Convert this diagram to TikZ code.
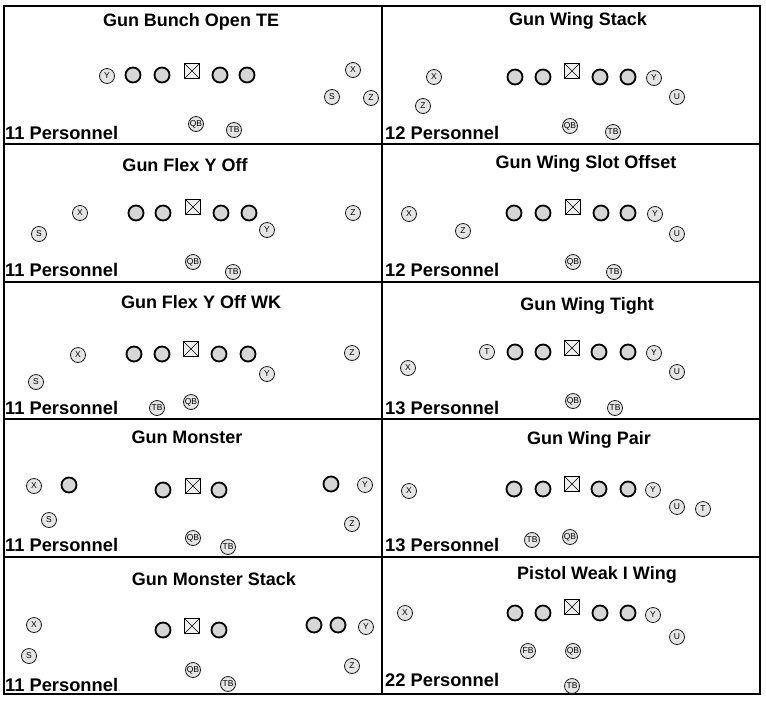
\documentclass[tikz,border=0pt]{standalone}
\usepackage{fontspec}
\setmainfont{Liberation Sans}
\begin{document}
\begin{tikzpicture}[x=1pt,y=-1pt,
  pl/.style={circle,draw=black!90,fill=black!10,line width=0.8pt,minimum size=15pt,inner sep=0pt,font=\fontsize{8.5}{9}\selectfont},
  ol/.style={circle,draw=black,fill=black!16,line width=1.8pt,minimum size=15pt,inner sep=0pt},
  ctr/.style={rectangle,draw=black,fill=black!6,line width=1.8pt,minimum size=15pt,inner sep=0pt,
    path picture={\draw[line width=0.6pt] (path picture bounding box.north west) -- (path picture bounding box.south east)
      (path picture bounding box.south west) -- (path picture bounding box.north east);}},
  ttl/.style={inner sep=0pt,font=\fontsize{18}{20}\selectfont\bfseries},
  pers/.style={anchor=west,inner sep=0pt,font=\fontsize{18.3}{20}\selectfont\bfseries},
  grid/.style={line width=1.2pt,draw=black}]
\useasboundingbox[fill=white] (0,0) rectangle (766,705);
% grid
\draw[grid] (4,6) rectangle (760,694);
\draw[grid] (382,6) -- (382,694);
\draw[grid] (4,144) -- (760,144);
\draw[grid] (4,282) -- (760,282);
\draw[grid] (4,419) -- (760,419);
\draw[grid] (4,557) -- (760,557);

% ---------- Panel 1 ----------
\node[ttl] (t1) at (191,22) {Gun Bunch Open TE};
\node[pers] (p1) at (5,133) {11 Personnel};
\node[pl] (a1y) at (107,76) {Y};
\node[ol] (a1l1) at (133,75) {};
\node[ol] (a1l2) at (162,75) {};
\node[ctr] (a1c) at (192,71) {};
\node[ol] (a1l4) at (220,75) {};
\node[ol] (a1l5) at (247,75) {};
\node[pl] (a1x) at (353,70) {X};
\node[pl] (a1s) at (332,97) {S};
\node[pl] (a1z) at (371,98) {Z};
\node[pl] (a1qb) at (196,124) {QB};
\node[pl] (a1tb) at (234,130) {TB};

% ---------- Panel 2 ----------
\node[ttl] (t2) at (578,21) {Gun Wing Stack};
\node[pers] (p2) at (385,133) {12 Personnel};
\node[pl] (a2x) at (434,77) {X};
\node[pl] (a2z) at (423,106) {Z};
\node[ol] (a2l1) at (515,77) {};
\node[ol] (a2l2) at (543,77) {};
\node[ctr] (a2c) at (572,71) {};
\node[ol] (a2l4) at (600,77) {};
\node[ol] (a2l5) at (628,77) {};
\node[pl] (a2y) at (654,78) {Y};
\node[pl] (a2u) at (677,97) {U};
\node[pl] (a2qb) at (570,126) {QB};
\node[pl] (a2tb) at (613,132) {TB};

% ---------- Panel 3 ----------
\node[ttl] (t3) at (185,165) {Gun Flex Y Off};
\node[pers] (p3) at (5,270) {11 Personnel};
\node[pl] (a3x) at (80,213) {X};
\node[pl] (a3s) at (39,234) {S};
\node[ol] (a3l1) at (136,213) {};
\node[ol] (a3l2) at (163,213) {};
\node[ctr] (a3c) at (193,207) {};
\node[ol] (a3l4) at (221,213) {};
\node[ol] (a3l5) at (249,213) {};
\node[pl] (a3y) at (267,230) {Y};
\node[pl] (a3z) at (353,213) {Z};
\node[pl] (a3qb) at (193,262) {QB};
\node[pl] (a3tb) at (233,272) {TB};

% ---------- Panel 4 ----------
\node[ttl] (t4) at (586,164) {Gun Wing Slot Offset};
\node[pers] (p4) at (385,270) {12 Personnel};
\node[pl] (a4x) at (409,214) {X};
\node[pl] (a4z) at (463,231) {Z};
\node[ol] (a4l1) at (514,213) {};
\node[ol] (a4l2) at (543,213) {};
\node[ctr] (a4c) at (573,207) {};
\node[ol] (a4l4) at (601,213) {};
\node[ol] (a4l5) at (628,213) {};
\node[pl] (a4y) at (655,214) {Y};
\node[pl] (a4u) at (677,234) {U};
\node[pl] (a4qb) at (573,262) {QB};
\node[pl] (a4tb) at (614,272) {TB};

% ---------- Panel 5 ----------
\node[ttl] (t5) at (201,302) {Gun Flex Y Off WK};
\node[pers] (p5) at (5,408) {11 Personnel};
\node[pl] (a5x) at (78,355) {X};
\node[pl] (a5s) at (36,382) {S};
\node[ol] (a5l1) at (134,354) {};
\node[ol] (a5l2) at (162,354) {};
\node[ctr] (a5c) at (191,349) {};
\node[ol] (a5l4) at (219,354) {};
\node[ol] (a5l5) at (248,354) {};
\node[pl] (a5y) at (267,374) {Y};
\node[pl] (a5z) at (352,353) {Z};
\node[pl] (a5tb) at (157,408) {TB};
\node[pl] (a5qb) at (191,402) {QB};

% ---------- Panel 6 ----------
\node[ttl] (t6) at (587,306) {Gun Wing Tight};
\node[pers] (p6) at (385,408) {13 Personnel};
\node[pl] (a6t) at (487,352) {T};
\node[ol] (a6l1) at (515,352) {};
\node[ol] (a6l2) at (543,352) {};
\node[ctr] (a6c) at (572,348) {};
\node[ol] (a6l4) at (599,352) {};
\node[ol] (a6l5) at (628,352) {};
\node[pl] (a6y) at (654,353) {Y};
\node[pl] (a6u) at (677,372) {U};
\node[pl] (a6x) at (408,368) {X};
\node[pl] (a6qb) at (573,401) {QB};
\node[pl] (a6tb) at (615,408) {TB};

% ---------- Panel 7 ----------
\node[ttl] (t7) at (187,437) {Gun Monster};
\node[pers] (p7) at (5,545) {11 Personnel};
\node[pl] (a7x) at (34,486) {X};
\node[ol] (a7l1) at (69,485) {};
\node[pl] (a7s) at (49,520) {S};
\node[ol] (a7l2) at (163,490) {};
\node[ctr] (a7c) at (193,486) {};
\node[ol] (a7l4) at (219,490) {};
\node[ol] (a7l5) at (331,484) {};
\node[pl] (a7y) at (365,485) {Y};
\node[pl] (a7z) at (352,524) {Z};
\node[pl] (a7qb) at (193,538) {QB};
\node[pl] (a7tb) at (228,547) {TB};

% ---------- Panel 8 ----------
\node[ttl] (t8) at (589,440) {Gun Wing Pair};
\node[pers] (p8) at (385,545) {13 Personnel};
\node[pl] (a8x) at (409,491) {X};
\node[ol] (a8l1) at (514,489) {};
\node[ol] (a8l2) at (543,489) {};
\node[ctr] (a8c) at (572,484) {};
\node[ol] (a8l4) at (599,489) {};
\node[ol] (a8l5) at (628,489) {};
\node[pl] (a8y) at (653,490) {Y};
\node[pl] (a8u) at (677,507) {U};
\node[pl] (a8t) at (703,509) {T};
\node[pl] (a8tb) at (532,540) {TB};
\node[pl] (a8qb) at (570,537) {QB};

% ---------- Panel 9 ----------
\node[ttl] (t9) at (214,579) {Gun Monster Stack};
\node[pers] (p9) at (5,685) {11 Personnel};
\node[pl] (a9x) at (34,625) {X};
\node[pl] (a9s) at (29,656) {S};
\node[ol] (a9l2) at (163,630) {};
\node[ctr] (a9c) at (192,626) {};
\node[ol] (a9l4) at (219,630) {};
\node[ol] (a9l5) at (314,625) {};
\node[ol] (a9l6) at (338,625) {};
\node[pl] (a9y) at (366,627) {Y};
\node[pl] (a9z) at (352,666) {Z};
\node[pl] (a9qb) at (193,670) {QB};
\node[pl] (a9tb) at (228,684) {TB};

% ---------- Panel 10 ----------
\node[ttl] (t10) at (597,575) {Pistol Weak I Wing};
\node[pers] (p10) at (385,680) {22 Personnel};
\node[pl] (b0x) at (405,613) {X};
\node[ol] (b0l1) at (515,613) {};
\node[ol] (b0l2) at (543,613) {};
\node[ctr] (b0c) at (572,607) {};
\node[ol] (b0l4) at (600,613) {};
\node[ol] (b0l5) at (628,613) {};
\node[pl] (b0y) at (653,615) {Y};
\node[pl] (b0u) at (677,637) {U};
\node[pl] (b0fb) at (528,651) {FB};
\node[pl] (b0qb) at (573,651) {QB};
\node[pl] (b0tb) at (572,686) {TB};
\end{tikzpicture}
\end{document}
